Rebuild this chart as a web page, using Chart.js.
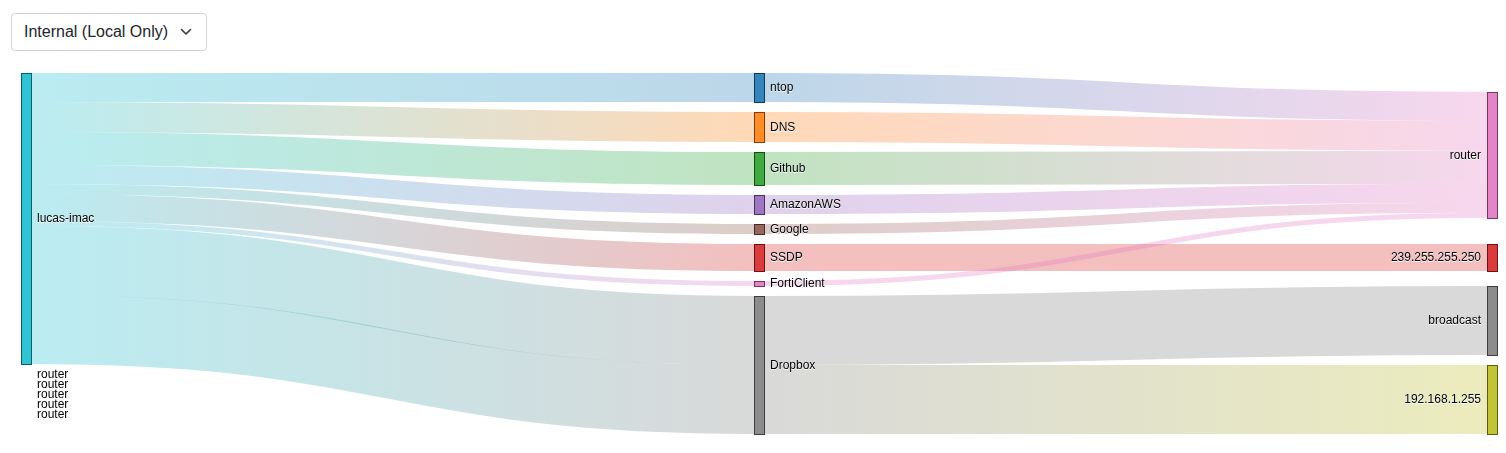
<!DOCTYPE html>
<html><head><meta charset="utf-8">
<script src="https://cdn.jsdelivr.net/npm/chart.js@4.4.1/dist/chart.umd.min.js"></script>
<style>
html,body{margin:0;padding:0;background:#fff;width:1506px;height:453px;overflow:hidden;}
#wrap{position:absolute;left:0;top:0;width:1506px;height:453px;}
#dd{position:absolute;left:11px;top:13px;width:194px;height:36px;border:1px solid #ced4da;border-radius:4px;background:#fff;font:16px "Liberation Sans",Arial,sans-serif;color:#212529;box-sizing:content-box;z-index:2;}
#dd span{position:absolute;left:12px;top:9px;white-space:nowrap;}
#dd svg{position:absolute;left:168px;top:14px;}
</style></head><body>
<div id="wrap"><canvas id="c" width="1506" height="453"></canvas></div>
<div id="dd"><span>Internal (Local Only)</span><svg width="12" height="8" viewBox="0 0 12 8"><path d="M1.5 1.5 L6 6 L10.5 1.5" fill="none" stroke="#343a40" stroke-width="1.6" stroke-linecap="round" stroke-linejoin="round"/></svg></div>
<script>
// ---- data ----
const nodeNames = ['lucas-imac','router','router','router','router','router',
  'ntop','DNS','Github','AmazonAWS','Google','SSDP','FortiClient','Dropbox',
  'router','239.255.255.250','broadcast','192.168.1.255'];
const linkSources = [0,0,0,0,0,0,0,0,0, 6,7,8,9,10,11,12,13,13];
const linkTargets = [6,7,8,9,10,11,12,13,13, 14,14,14,14,14,15,14,16,17];
const linkValues  = [29,30,33,19,10,27,5,69,69, 29,30,33,19,10,27,5,69,69];

// ---- styles ----
const nodeColors = ['#17becf','#e377c2','#e377c2','#e377c2','#e377c2','#e377c2',
  '#1f77b4','#ff7f0e','#2ca02c','#9467bd','#8c564b','#d62728','#e377c2','#7f7f7f',
  '#e377c2','#d62728','#7f7f7f','#bcbd22'];
const NODE_PAD = 10;     // in value units
const NODE_WIDTH = 10;   // px
const LINK_ALPHA = 0.3;

// ---- layout (d3-sankey style) ----
function layout(){
  const nodes = nodeNames.map((name,i)=>({i,name,color:nodeColors[i],sourceLinks:[],targetLinks:[]}));
  const links = linkSources.map((s,k)=>({source:nodes[s],target:nodes[linkTargets[k]],value:linkValues[k],order:k}));
  links.forEach(l=>{l.source.sourceLinks.push(l);l.target.targetLinks.push(l);});
  const sum=(a,f)=>a.reduce((s,d)=>s+f(d),0);
  nodes.forEach(n=>{n.value=Math.max(sum(n.sourceLinks,l=>l.value),sum(n.targetLinks,l=>l.value));});
  let remaining=nodes.slice(), x=0;
  while(remaining.length){
    const next=[];
    remaining.forEach(n=>{n.x=x;n.sourceLinks.forEach(l=>{if(next.indexOf(l.target)<0)next.push(l.target);});});
    remaining=next; x++;
  }
  const maxX=x-1;
  nodes.forEach(n=>{ if(!n.sourceLinks.length && n.targetLinks.length) n.x=maxX; });
  const columns=[];
  for(let c=0;c<=maxX;c++) columns.push(nodes.filter(n=>n.x===c));
  const extent=Math.max(...columns.map(col=>sum(col,n=>n.value)+(col.length-1)*NODE_PAD));
  columns.forEach(col=>{let y=0;col.forEach(n=>{n.y=y;n.cy=y+n.value/2;y+=n.value+NODE_PAD;});});
  function resolve(col){
    col.sort((a,b)=>a.cy-b.cy);
    let y0=0,n;
    for(let i=0;i<col.length;i++){n=col[i];const d=y0-n.y;if(d>0)n.y+=d;y0=n.y+n.value+NODE_PAD;}
    let d=y0-NODE_PAD-extent;
    if(d>0){y0=n.y-=d;for(let i=col.length-2;i>=0;i--){n=col[i];d=n.y+n.value+NODE_PAD-y0;if(d>0)n.y-=d;y0=n.y;}}
  }
  for(let c=1;c<=maxX;c++){
    const col=columns[c];
    col.forEach(n=>{
      if(n.targetLinks.length){
        n.cy=sum(n.targetLinks,l=>(l.source.y+l.source.value/2)*l.value)/sum(n.targetLinks,l=>l.value);
        n.y=n.cy-n.value/2;
      }
    });
    resolve(col);
  }
  nodes.forEach(n=>{
    n.sourceLinks.sort((a,b)=>(a.target.y-b.target.y)||(a.order-b.order));
    n.targetLinks.sort((a,b)=>(a.source.y-b.source.y)||(a.order-b.order));
    let sy=0,ty=0;
    n.sourceLinks.forEach(l=>{l.sy=sy;sy+=l.value;});
    n.targetLinks.forEach(l=>{l.ty=ty;ty+=l.value;});
  });
  return {nodes,links,maxX,extent};
}
const graph=layout();

function darker(hex,k){
  const f=Math.pow(0.7,k);
  const r=parseInt(hex.slice(1,3),16),g=parseInt(hex.slice(3,5),16),b=parseInt(hex.slice(5,7),16);
  return 'rgb('+Math.round(r*f)+','+Math.round(g*f)+','+Math.round(b*f)+')';
}

const sankeyPlugin={
  id:'sankeyDraw',
  afterDatasetsDraw(chart){
    const ctx=chart.ctx, xs=chart.scales.x, ys=chart.scales.y;
    const py=v=>ys.getPixelForValue(v);
    const k=py(1)-py(0);
    ctx.save();
    graph.links.forEach(l=>{
      if(l.value<=0) return;
      const w=l.value*k;
      const x0=xs.getPixelForValue(l.source.x)+NODE_WIDTH;
      const x1=xs.getPixelForValue(l.target.x);
      const y0=py(l.source.y+l.sy+l.value/2);
      const y1=py(l.target.y+l.ty+l.value/2);
      const xm=(x0+x1)/2;
      const g=ctx.createLinearGradient(x0,0,x1,0);
      g.addColorStop(0,l.source.color);g.addColorStop(1,l.target.color);
      ctx.globalAlpha=LINK_ALPHA;
      ctx.strokeStyle=g;ctx.lineWidth=Math.max(1,w);ctx.lineCap='butt';
      ctx.beginPath();ctx.moveTo(x0,y0);ctx.bezierCurveTo(xm,y0,xm,y1,x1,y1);ctx.stroke();
    });
    ctx.globalAlpha=1;
    graph.nodes.forEach(n=>{
      if(n.value<=0) return;
      const x=Math.round(xs.getPixelForValue(n.x));
      const yt=Math.round(py(n.y)), yb=Math.round(py(n.y+n.value));
      ctx.globalAlpha=0.9;ctx.fillStyle=n.color;
      ctx.fillRect(x,yt,NODE_WIDTH,yb-yt);
      ctx.globalAlpha=1;ctx.strokeStyle=darker(n.color,2);ctx.lineWidth=1;
      ctx.strokeRect(x+0.5,yt+0.5,NODE_WIDTH,yb-yt);
    });
    ctx.font='12px "Liberation Sans", Arial, sans-serif';
    ctx.textBaseline='middle';
    graph.nodes.forEach(n=>{
      const x=xs.getPixelForValue(n.x);
      const yc=py(n.y+n.value/2)+0.5;
      let tx;
      if(n.x<graph.maxX){ctx.textAlign='left';tx=x+NODE_WIDTH+6;}
      else {ctx.textAlign='right';tx=x-6;}
      ctx.fillStyle='#fff';ctx.fillText(n.name,tx,yc+1);
      ctx.fillStyle='#000';ctx.fillText(n.name,tx,yc);
    });
    ctx.restore();
  }
};

new Chart(document.getElementById('c'),{
  type:'scatter',
  data:{datasets:[{data:[]}]},
  options:{
    responsive:false,animation:false,events:[],
    layout:{padding:{left:21,right:19,top:73,bottom:19}},
    scales:{
      x:{type:'linear',min:0,max:graph.maxX,display:false},
      y:{type:'linear',reverse:true,min:0,max:graph.extent,display:false}
    },
    plugins:{legend:{display:false},tooltip:{enabled:false}}
  },
  plugins:[sankeyPlugin]
});
</script>
</body></html>
